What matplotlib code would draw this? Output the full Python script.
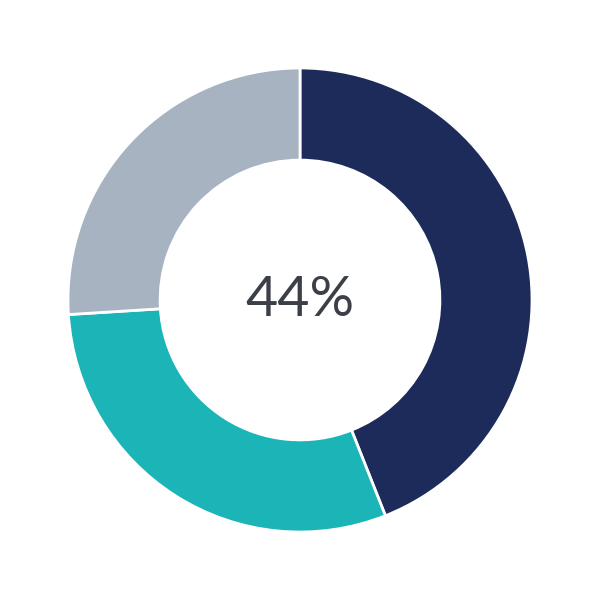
import matplotlib.pyplot as plt

labels = ['A', 'B', 'C']
values = [44, 30, 26]
colors = ['#1c2b5a', '#1bb4b7', '#a8b3c1']
center_text = '44%'

fig = plt.figure(figsize=(6, 6), dpi=100)
ax = fig.add_axes([0, 0, 1, 1])
ax.pie(values, colors=colors, startangle=90, counterclock=False,
       radius=1.0, wedgeprops=dict(width=0.397, edgecolor='white', linewidth=2))
ax.text(0, 0, center_text, ha='center', va='center', fontsize=40,
        color='#3b3f47', family=['Lato', 'DejaVu Sans'])
ax.set_xlim(-1.293, 1.293)
ax.set_ylim(-1.293, 1.293)
ax.set_aspect('equal')
ax.axis('off')
fig.savefig('out.png', dpi=100, facecolor='white')
